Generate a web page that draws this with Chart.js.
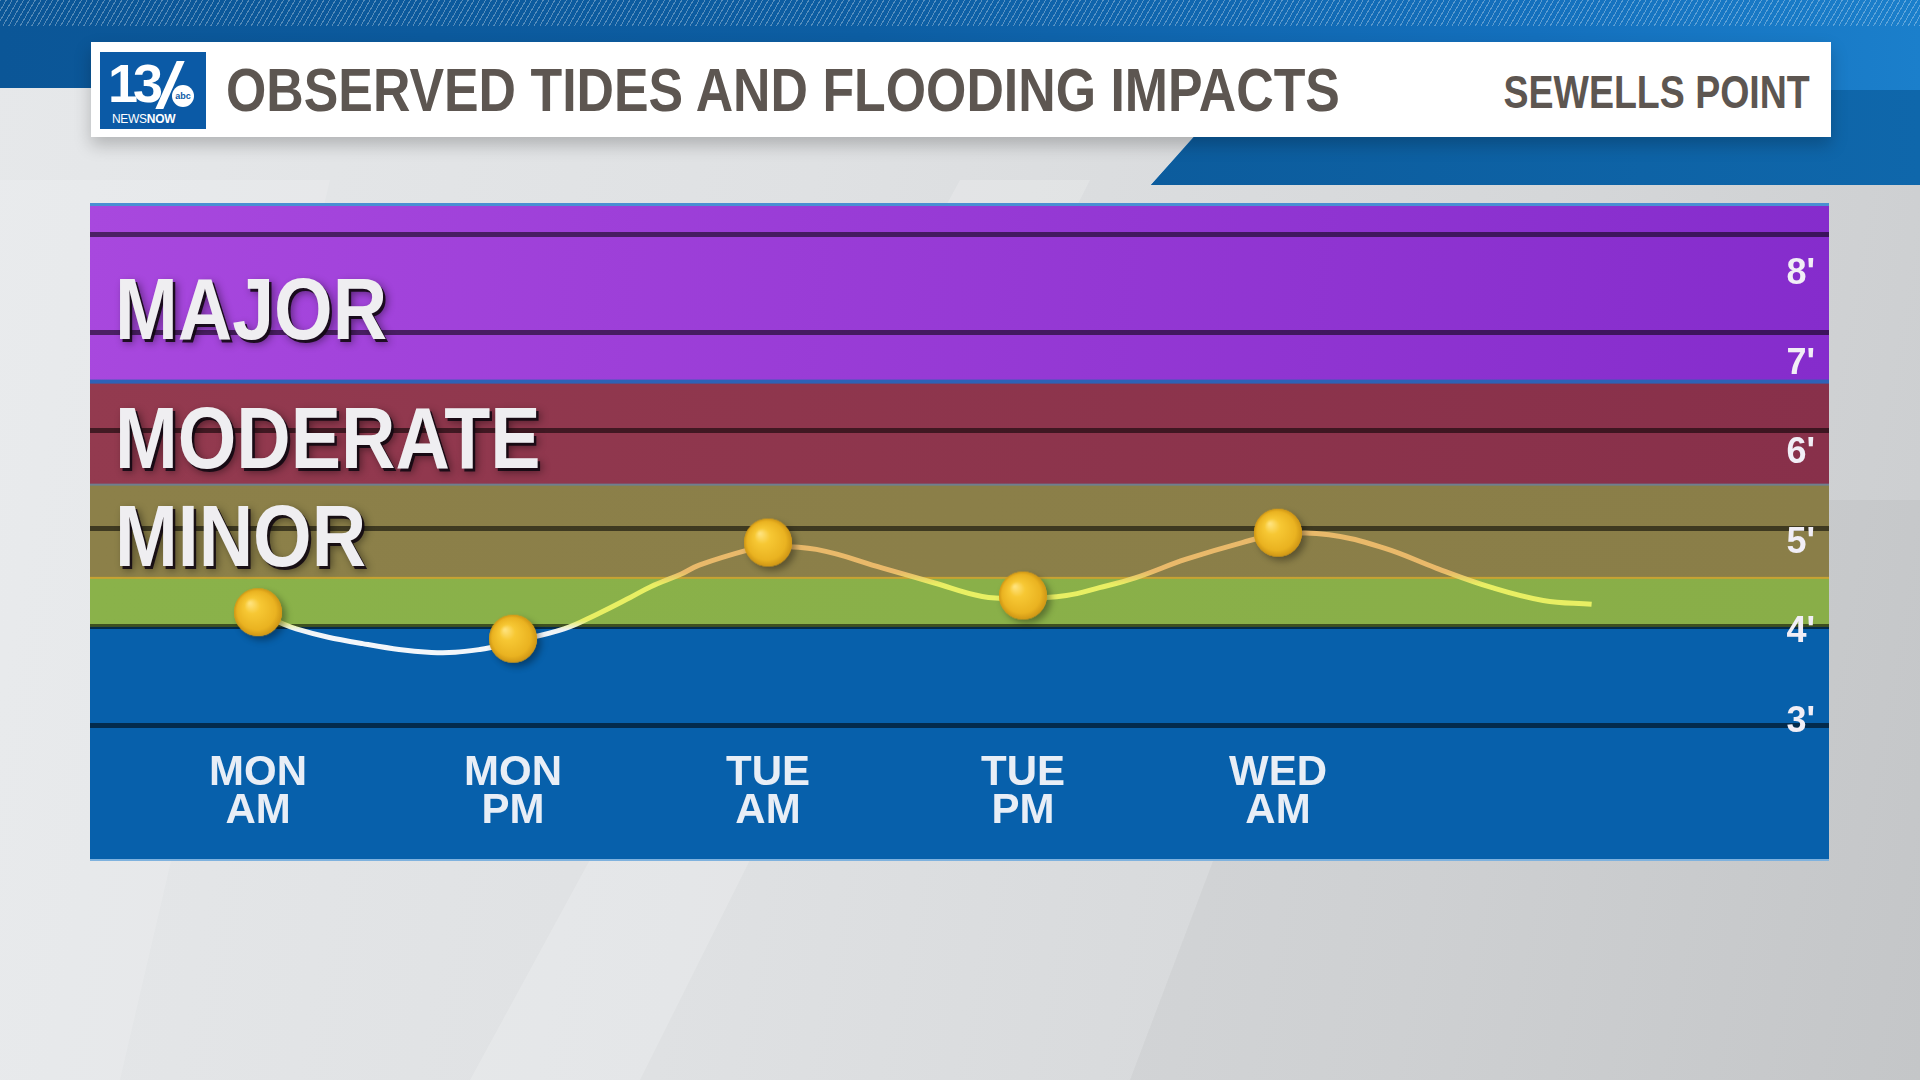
<!DOCTYPE html>
<html>
<head>
<meta charset="utf-8">
<title>Observed Tides and Flooding Impacts</title>
<script src="https://cdn.jsdelivr.net/npm/chart.js@4.4.1/dist/chart.umd.min.js"></script>
<style>
  html, body { margin: 0; padding: 0; }
  body {
    width: 1920px; height: 1080px; position: relative; overflow: hidden;
    font-family: 'Liberation Sans', Arial, sans-serif;
    background: linear-gradient(100deg, #e6e8ea 0%, #dfe1e3 40%, #d5d7d9 75%, #cbcdcf 100%);
  }
  .layer { position: absolute; left: 0; top: 0; width: 1920px; height: 1080px; }
  #streak1 { background: rgba(255,255,255,0.18); clip-path: polygon(470px 1080px, 640px 1080px, 1090px 180px, 960px 180px); }
  #streak2 { background: rgba(0,0,0,0.03); clip-path: polygon(1130px 1080px, 1920px 1080px, 1920px 500px, 1350px 500px); }
  #streak3 { background: rgba(255,255,255,0.14); clip-path: polygon(0 180px, 330px 180px, 120px 1080px, 0 1080px); }
  #topband {
    background: linear-gradient(90deg, #0b5697 0%, #0d5ea3 45%, #1470bd 80%, #1b7fcb 100%);
    clip-path: polygon(0 0, 1920px 0, 1920px 185px, 1151px 185px, 1237px 88px, 0 88px);
  }
  #wedge {
    background: linear-gradient(90deg, #0a5290 0%, #0c5c9d 60%, #0f67ab 100%);
    clip-path: polygon(1237px 90px, 1920px 90px, 1920px 185px, 1151px 185px);
  }
  #hatch {
    position: absolute; left: 0; top: 0; width: 1920px; height: 26px;
    background: repeating-linear-gradient(120deg, rgba(255,255,255,0.30) 0 1px, rgba(255,255,255,0) 1px 5px);
  }
  #titlebox {
    position: absolute; left: 91px; top: 42px; width: 1740px; height: 95px;
    background: #ffffff; box-shadow: 0 8px 16px rgba(0,0,0,0.22);
  }
  #logo {
    position: absolute; left: 100px; top: 52px; width: 106px; height: 77px;
    background: #0b5aa6; color: #fff; overflow: hidden;
  }
  #logo .n13 { position: absolute; left: 8px; top: 4px; font: bold 54px/54px 'Liberation Sans', Arial, sans-serif; letter-spacing: -5px; }
  #logo .slash { position: absolute; left: 66px; top: 9px; width: 8px; height: 48px; background: #fff; transform: skewX(-24deg); }
  #logo .abc { position: absolute; left: 72px; top: 33px; width: 22px; height: 22px; border-radius: 50%; background: #fff; color: #0b5aa6;
    font: bold 9px/22px 'Liberation Sans', Arial, sans-serif; text-align: center; }
  #logo .nn { position: absolute; left: 12px; top: 60px; font: 12px/14px 'Liberation Sans', Arial, sans-serif; letter-spacing: -0.3px; }
  .title { position: absolute; white-space: nowrap; line-height: 1; }
  #title1 {
    left: 226px; top: 60px; font-size: 61px; font-weight: bold; color: #5d5651;
    transform: scaleX(0.85); transform-origin: left top;
  }
  #title2 {
    right: 110px; top: 69px; font-size: 46px; font-weight: bold; color: #5d5651;
    transform: scaleX(0.815); transform-origin: right top;
  }
  #panel { position: absolute; left: 90px; top: 203px; width: 1739px; height: 658px; }
</style>
</head>
<body>
<div class="layer" id="streak3"></div>
<div class="layer" id="streak1"></div>
<div class="layer" id="streak2"></div>
<div class="layer" id="topband"></div>
<div class="layer" id="wedge"></div>
<div id="hatch"></div>
<div id="titlebox"></div>
<div id="logo"><span class="n13">13</span><span class="slash"></span><span class="abc">abc</span><span class="nn">NEWS<b>NOW</b></span></div>
<div class="title" id="title1">OBSERVED TIDES AND FLOODING IMPACTS</div>
<div class="title" id="title2">SEWELLS POINT</div>
<div id="panel"><canvas id="tideChart" width="1739" height="658"></canvas></div>

<script>
// Tide periods on the x axis
const categories = [['MON', 'AM'], ['MON', 'PM'], ['TUE', 'AM'], ['TUE', 'PM'], ['WED', 'AM']];
// Levels marked with a dot (feet)
const tideLevels = [4.15, 3.88, 4.86, 4.32, 4.96];
// Observed water level trace (time in tide-period units, level in feet)
const obsTimes = [0, 0.15, 0.41, 0.68, 0.87, 1, 1.2, 1.33, 1.46, 1.54, 1.66, 1.73, 1.93, 2, 2.19, 2.45, 2.65, 2.84, 3, 3.17, 3.3, 3.44, 3.64, 3.86, 4, 4.2, 4.42, 4.62, 4.84, 5.04, 5.23];
const obsLevels = [4.15, 3.98, 3.83, 3.74, 3.77, 3.85, 3.98, 4.13, 4.30, 4.41, 4.54, 4.63, 4.79, 4.82, 4.79, 4.60, 4.45, 4.31, 4.29, 4.32, 4.40, 4.50, 4.69, 4.86, 4.94, 4.94, 4.80, 4.60, 4.40, 4.27, 4.23];
// Y ticks
const yTicks = [3, 4, 5, 6, 7, 8];
const yTickLabels = ["3'", "4'", "5'", "6'", "7'", "8'"];
// Flood zones: lower edge of each coloured zone (feet)
const floodLevels = [4.0, 4.5, 5.45, 6.5];
const floodNames = ['', 'MINOR', 'MODERATE', 'MAJOR'];

const FONT = "'Liberation Sans', Arial, sans-serif";

// gold ball used as point marker
function makeBall() {
  const c = document.createElement('canvas');
  c.width = 74; c.height = 74;
  const g = c.getContext('2d');
  const cx = 37, cy = 37, r = 24;
  g.save();
  g.shadowColor = 'rgba(0,0,0,0.35)';
  g.shadowBlur = 7; g.shadowOffsetX = 4; g.shadowOffsetY = 4;
  g.beginPath(); g.arc(cx, cy, r, 0, Math.PI * 2);
  g.fillStyle = '#e3aa1c'; g.fill();
  g.restore();
  const rg = g.createRadialGradient(cx - 8, cy - 9, 1, cx, cy, r);
  rg.addColorStop(0, '#ffe27a');
  rg.addColorStop(0.3, '#f7c834');
  rg.addColorStop(0.8, '#eab321');
  rg.addColorStop(1, '#cf9615');
  g.beginPath(); g.arc(cx, cy, r, 0, Math.PI * 2);
  g.fillStyle = rg; g.fill();
  return c;
}

// colour of the trace changes with the zone it is in
function traceColor(chart) {
  const {ctx, chartArea, scales} = chart;
  if (!chartArea) return '#f2f6fa';
  const y = scales.y;
  const lo = 3.9, hi = 4.7;
  const g = ctx.createLinearGradient(0, y.getPixelForValue(lo), 0, y.getPixelForValue(hi));
  const f = v => (v - lo) / (hi - lo);
  g.addColorStop(0, '#f2f6fa');
  g.addColorStop(f(3.97), '#eef2f4');
  g.addColorStop(f(4.07), '#e8ef63');
  g.addColorStop(f(4.43), '#e8ef63');
  g.addColorStop(f(4.56), '#e9b96a');
  g.addColorStop(1, '#e9b96a');
  return g;
}

// scales sit flush with the canvas edges
function noPad(s) {
  s.paddingTop = 0; s.paddingBottom = 0; s.paddingLeft = 0; s.paddingRight = 0;
}

const zonesPlugin = {
  id: 'zones',
  beforeDraw(chart, args, opts) {
    const {ctx, chartArea: a, scales: {y}} = chart;
    ctx.save();
    ctx.fillStyle = opts.base;
    ctx.fillRect(0, 0, chart.width, chart.height);
    floodLevels.forEach((lo, i) => {
      const hi = i + 1 < floodLevels.length ? floodLevels[i + 1] : y.max;
      const top = y.getPixelForValue(hi), bot = y.getPixelForValue(lo);
      const cols = opts.colors[i];
      const g = ctx.createLinearGradient(a.left, top, a.right, bot);
      g.addColorStop(0, cols[0]);
      g.addColorStop(1, cols[1]);
      ctx.fillStyle = g;
      ctx.fillRect(a.left, top, a.right - a.left, bot - top);
    });
    // seams between zones
    floodLevels.forEach((lv, i) => {
      const s = opts.seams[i];
      if (!s) return;
      const yy = y.getPixelForValue(lv);
      ctx.fillStyle = s[0];
      ctx.fillRect(a.left, yy - s[1] / 2, a.right - a.left, s[1]);
    });
    ctx.fillStyle = '#4a8fd2';
    ctx.fillRect(0, 0, chart.width, 3);
    ctx.fillStyle = '#7fb2de';
    ctx.fillRect(0, chart.height - 2, chart.width, 2);
    ctx.restore();
  },
  beforeDatasetsDraw(chart, args, opts) {
    const {ctx, chartArea: a, scales: {y}} = chart;
    ctx.save();
    ctx.font = 'bold 88px ' + FONT;
    ctx.textBaseline = 'alphabetic';
    floodNames.forEach((name, i) => {
      if (!name) return;
      const yb = y.getPixelForValue(floodLevels[i] + opts.lift[i]);
      ctx.save();
      ctx.translate(a.left + 25, yb);
      ctx.scale(0.856, 1);
      ctx.fillStyle = 'rgba(25,12,25,0.9)';
      ctx.fillText(name, 3, 3);
      ctx.shadowColor = 'rgba(0,0,0,0.45)';
      ctx.shadowBlur = 8; ctx.shadowOffsetX = 4; ctx.shadowOffsetY = 4;
      ctx.fillStyle = '#efeef1';
      ctx.fillText(name, 0, 0);
      ctx.restore();
    });
    ctx.restore();
  }
};

const ball = makeBall();

new Chart(document.getElementById('tideChart'), {
  type: 'line',
  data: {
    datasets: [
      {
        label: 'High / low tide',
        data: tideLevels.map((v, i) => ({x: i, y: v})),
        showLine: false,
        pointStyle: ball,
        pointRadius: 24,
        order: 1
      },
      {
        label: 'Observed',
        data: obsTimes.map((t, i) => ({x: t, y: obsLevels[i]})),
        borderColor: ctx => traceColor(ctx.chart),
        borderWidth: 5,
        pointRadius: 0,
        fill: false,
        tension: 0.4,
        order: 2
      }
    ]
  },
  options: {
    responsive: false,
    animation: false,
    layout: { padding: 0, autoPadding: false },
    scales: {
      x: {
        type: 'linear',
        min: -0.659,
        max: 6.161,
        afterBuildTicks: s => { s.ticks = categories.map((c, i) => ({value: i})); },
        afterFit: s => { s.height = 106; noPad(s); },
        grid: { display: false, drawTicks: false },
        border: { display: false },
        ticks: {
          autoSkip: false, maxRotation: 0, padding: 0,
          color: '#e8eef6',
          font: { family: FONT, size: 42, weight: 'bold', lineHeight: 0.9 },
          callback: v => categories[v]
        }
      },
      y: {
        position: 'left',
        min: 2.695,
        max: 8.32,
        afterBuildTicks: s => { s.ticks = yTicks.map(v => ({value: v})); },
        afterFit: s => { s.width = 0; noPad(s); },
        ticks: { display: false },
        grid: { color: 'rgba(0,0,0,0.55)', lineWidth: 5, drawTicks: false },
        border: { display: false }
      },
      y2: {
        position: 'right',
        min: 2.632,
        max: 8.792,
        afterBuildTicks: s => { s.ticks = yTicks.map(v => ({value: v})); },
        afterFit: s => { s.width = 0; noPad(s); },
        grid: { display: false, drawTicks: false },
        border: { display: false },
        ticks: {
          mirror: true, padding: -14,
          color: '#f1eef6',
          font: { family: FONT, size: 36, weight: 'bold' },
          callback: v => yTickLabels[yTicks.indexOf(v)]
        }
      }
    },
    plugins: {
      legend: { display: false },
      tooltip: { enabled: false },
      zones: {
        base: '#0760ab',
        colors: [
          ['#8ab24a', '#89ae48'],
          ['#8c8049', '#8a7e48'],
          ['#933a4f', '#88304a'],
          ['#a848de', '#852ccc']
        ],
        seams: [null, ['#c8a332', 2], ['#6f7f8e', 2], ['#2e62b6', 4]],
        lift: [0, 0.12, 0.17, 0.43]
      }
    }
  },
  plugins: [zonesPlugin]
});
</script>
</body>
</html>
